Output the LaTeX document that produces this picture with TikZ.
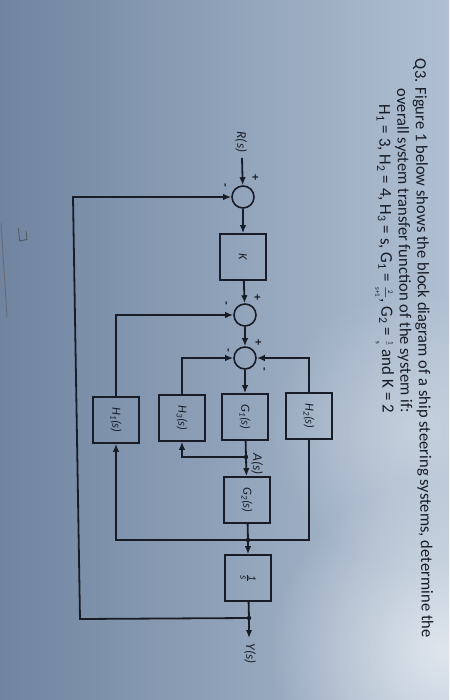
\documentclass[tikz,border=0pt]{standalone}
\usepackage{fontspec}
\setmainfont{Carlito}
\usetikzlibrary{arrows.meta,fadings}

\definecolor{ink}{RGB}{24,28,38}
\definecolor{paperL}{RGB}{112,132,160}
\definecolor{paperR}{RGB}{176,192,210}

\tikzfading[name=glow, inner color=transparent!0, outer color=transparent!100]

\newcommand{\smfrac}[2]{$\frac{\mbox{\fontsize{7}{7}\selectfont #1}}{\mbox{\fontsize{7}{7}\selectfont #2}}$}

\tikzset{
  sig/.style={-{Latex[length=8pt,width=6.5pt]}},
  blk/.style={draw, line width=1.6pt, minimum width=46pt, minimum height=46pt, inner sep=0pt, rotate=-90, font=\fontsize{12.5}{12}\selectfont\itshape},
  sumnode/.style={draw, circle, line width=1.6pt, minimum size=22pt, inner sep=0pt},
  sgn/.style={rotate=-90, inner sep=0pt, font=\fontsize{12}{12}\selectfont\bfseries},
  lbl/.style={rotate=-90, inner sep=0pt, font=\fontsize{13.5}{13}\selectfont\itshape},
  txt/.style={rotate=-89.3, anchor=base west, inner sep=0pt, font=\fontsize{16.6}{18}\selectfont}
}

\begin{document}
\begin{tikzpicture}[x=1pt, y=-1pt, line width=1.8pt, color=ink]

% paper
\useasboundingbox (0,0) rectangle (449,700);
\clip (0,0) rectangle (449,700);
\shade[left color=paperL, right color=paperR] (0,0) rectangle (449,700);
\fill[white, opacity=0.6, path fading=glow] (440,650) circle (170);
\fill[white, opacity=0.3, path fading=glow] (410,430) circle (140);

% question
\node[txt] (q1) at (415,58) {Q3. Figure 1 below shows the block diagram of a ship steering systems, determine the};
\node[txt] (q2) at (397,88) {overall system transfer function of the system if:};
\node[txt, font=\fontsize{17}{18}\selectfont] (q3) at (379,104) {H\textsubscript{1} = 3, H\textsubscript{2} = 4, H\textsubscript{3} = s, G\textsubscript{1} = \smfrac{2}{s+1}, G\textsubscript{2} = \smfrac{1}{s} and K = 2};

% blocks
\node[sumnode] (s1) at (243,197) {};
\node[blk] (k) at (243,257) {K};
\node[sumnode] (s2) at (245,315) {};
\node[sumnode] (s3) at (245,358) {};
\node[blk] (g1) at (245,417) {G\textsubscript{1}(s)};
\node[blk] (h1) at (116,420) {H\textsubscript{1}(s)};
\node[blk] (h3) at (182,418) {H\textsubscript{3}(s)};
\node[blk] (h2) at (309,416) {H\textsubscript{2}(s)};
\node[blk] (g2) at (247,500) {G\textsubscript{2}(s)};
\node[blk, font=\fontsize{11}{11}\selectfont\itshape] (inv) at (248,578) {$\frac{\mbox{1}}{\mbox{s}}$};

\coordinate (rin) at (242,158);
\coordinate (ja) at (246,457);
\coordinate (jb) at (248,540);
\coordinate (jy) at (249,618);
\coordinate (yout) at (249,638);
\coordinate (fbb) at (80,619);
\coordinate (fbt) at (73,197);

% signals
\draw[sig] (rin) -- (s1);
\draw[sig] (s1) -- (k);
\draw[sig] (k) -- (s2);
\draw[sig] (s2) -- (s3);
\draw[sig] (s3) -- (g1);
\draw (g1) -- (ja);
\draw[sig] (ja) -- (g2);
\draw[sig] (ja) -| (h3);
\draw[sig] (h3) |- (s3);
\draw[sig] (h2) |- (s3);
\draw (g2) -- (jb);
\draw[sig] (jb) -- (inv);
\draw (jb) -| (h2);
\draw[sig] (jb) -| (h1);
\draw[sig] (h1) |- (s2);
\draw (inv) -- (jy);
\draw[sig] (jy) -- (yout);
\draw[sig] (jy) -- (fbb) -- (fbt) -- (s1);
\foreach \j in {ja,jb,jy} \fill (\j) circle (2.2);

% labels
\node[lbl] (rlab) at (241,142) {R(s)};
\node[lbl] (ylab) at (250,654) {Y(s)};
\node[lbl] (alab) at (257,464) {A(s)};
\node[sgn] (p1) at (255,177) {+};
\node[sgn] (m1) at (224,185) {-};
\node[sgn] (p2) at (257,297) {+};
\node[sgn] (m2) at (225,303) {-};
\node[sgn] (p3) at (258,342) {+};
\node[sgn] (m3) at (227,350) {-};
\node[sgn] (m4) at (263,369) {-};

% pencil marks
\draw[ink!75, line width=0.8pt] (18.5,228) -- (19.5,241) -- (27,239.5) -- (26,231);
\draw[ink!65, line width=0.9pt] (1,223) -- (7,317);

\end{tikzpicture}
\end{document}
